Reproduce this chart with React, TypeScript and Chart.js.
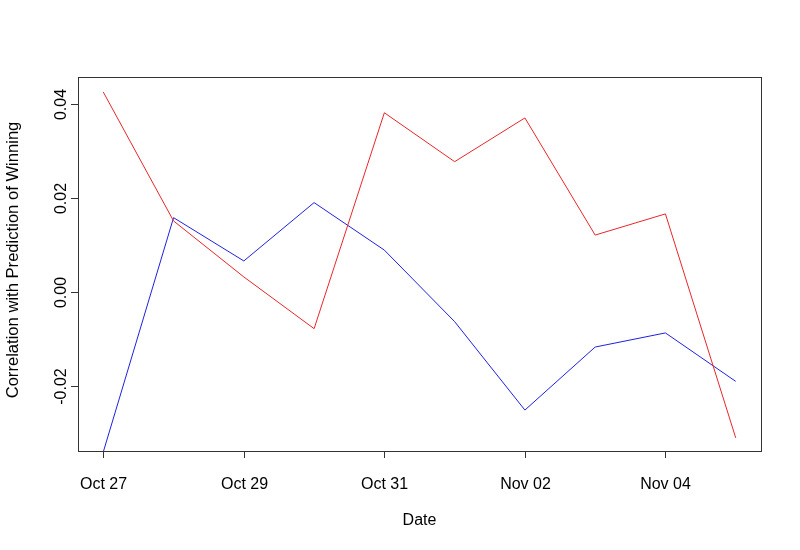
import React, { useEffect, useRef } from "react";
import { Chart, registerables } from "chart.js";

Chart.register(...registerables);

// Day offsets from Oct 27
const dayIndex = [0, 1, 2, 3, 4, 5, 6, 7, 8, 9];
const tickDays = [0, 2, 4, 6, 8];
const tickLabels = ["Oct 27", "Oct 29", "Oct 31", "Nov 02", "Nov 04"];
const yTicks = [-0.02, 0.0, 0.02, 0.04];
const yTickLabels = ["-0.02", "0.00", "0.02", "0.04"];

const redSeries = [0.0425, 0.0151, 0.0032, -0.0078, 0.0381, 0.0277, 0.037, 0.0121, 0.0166, -0.031];
const blueSeries = [-0.034, 0.0158, 0.0066, 0.019, 0.0089, -0.0063, -0.0251, -0.0117, -0.0087, -0.019];

const xTitle = "Date";
const yTitle = "Correlation with Prediction of Winning";

const FONT = '16px "Liberation Sans", Arial, sans-serif';
const YTITLE_FONT = '16.6px "Liberation Sans", Arial, sans-serif';

const rAxesPlugin = {
  id: "rAxes",
  afterDraw(chart: any) {
    const ctx = chart.ctx as CanvasRenderingContext2D;
    const area = chart.chartArea;
    const xs = chart.scales.x;
    const ys = chart.scales.y;
    ctx.save();
    ctx.strokeStyle = "#333";
    ctx.lineWidth = 1;
    // box
    ctx.strokeRect(Math.round(area.left) + 0.5, Math.round(area.top) + 0.5,
      Math.round(area.right - area.left), Math.round(area.bottom - area.top));
    ctx.font = FONT;
    ctx.fillStyle = "#000";
    // x ticks
    ctx.textAlign = "center";
    ctx.textBaseline = "middle";
    tickDays.forEach((d, i) => {
      const px = Math.round(xs.getPixelForValue(d)) + 0.5;
      ctx.beginPath();
      ctx.moveTo(px, Math.round(area.bottom));
      ctx.lineTo(px, Math.round(area.bottom) + 7);
      ctx.stroke();
      ctx.fillText(tickLabels[i], px, area.bottom + 34);
    });
    // y ticks
    yTicks.forEach((v, i) => {
      const py = Math.round(ys.getPixelForValue(v)) + 0.5;
      ctx.beginPath();
      ctx.moveTo(Math.round(area.left), py);
      ctx.lineTo(Math.round(area.left) - 7, py);
      ctx.stroke();
      ctx.save();
      ctx.translate(area.left - 16, py);
      ctx.rotate(-Math.PI / 2);
      ctx.fillText(yTickLabels[i], 0, 0);
      ctx.restore();
    });
    // titles
    ctx.fillText(xTitle, (area.left + area.right) / 2, area.bottom + 70);
    ctx.save();
    ctx.font = YTITLE_FONT;
    ctx.translate(13, (area.top + area.bottom) / 2 - 4);
    ctx.rotate(-Math.PI / 2);
    ctx.fillText(yTitle, 0, 0);
    ctx.restore();
    ctx.restore();
  },
};

export default function App() {
  const ref = useRef<HTMLCanvasElement | null>(null);
  useEffect(() => {
    if (!ref.current) return;
    const chart = new Chart(ref.current, {
      type: "line",
      data: {
        datasets: [
          {
            label: "red",
            data: dayIndex.map((d, i) => ({ x: d, y: redSeries[i] })),
            borderColor: "#e8262a",
            borderWidth: 1,
            pointRadius: 0,
            tension: 0,
          },
          {
            label: "blue",
            data: dayIndex.map((d, i) => ({ x: d, y: blueSeries[i] })),
            borderColor: "#2020e0",
            borderWidth: 1,
            pointRadius: 0,
            tension: 0,
          },
        ],
      },
      options: {
        animation: false,
        responsive: false,
        layout: { padding: { left: 78, top: 77, right: 39, bottom: 99 } },
        plugins: { legend: { display: false }, tooltip: { enabled: false } },
        scales: {
          x: { type: "linear", min: -0.36, max: 9.36, display: false },
          y: { type: "linear", min: -0.0338, max: 0.0457, display: false },
        },
      },
      plugins: [rAxesPlugin],
    });
    return () => chart.destroy();
  }, []);
  return (
    <div style={{ position: "absolute", left: 0, top: 0, width: 800, height: 550, background: "#fff" }}>
      <canvas ref={ref} width={800} height={550} style={{ width: 800, height: 550 }} />
    </div>
  );
}
